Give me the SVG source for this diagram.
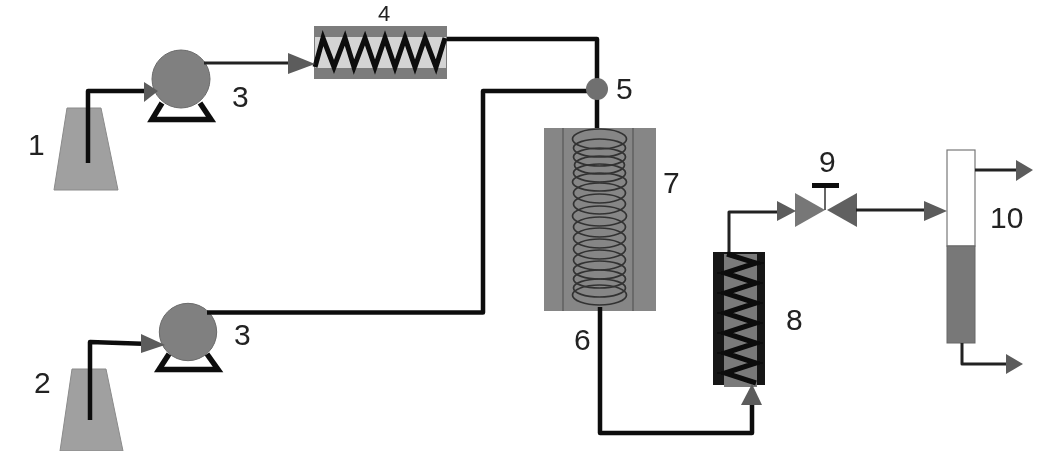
<svg xmlns="http://www.w3.org/2000/svg" width="1054" height="451" viewBox="0 0 1054 451">
<defs><filter id="soft" x="-2%" y="-2%" width="104%" height="104%"><feGaussianBlur stdDeviation="0.55"/></filter></defs>
<style>
text{font-family:"Liberation Sans",Arial,sans-serif;font-size:30px;fill:#222}
.flask{fill:#a0a0a0;stroke:#8a8a8a;stroke-width:1;stroke-linejoin:round}
.pump{fill:#808080;stroke:#6a6a6a;stroke-width:1}
.base{fill:none;stroke:#111;stroke-width:5.500;stroke-linejoin:miter}
.pipe{fill:none;stroke:#111;stroke-width:4.500;stroke-linejoin:round}
.thin{fill:none;stroke:#222;stroke-width:3;stroke-linejoin:round}
.head{fill:#5c5c5c}
.coil{fill:none;stroke:#333;stroke-width:1.700}
.zig{fill:none;stroke:#0c0c0c;stroke-width:5;stroke-linejoin:miter}
</style>
<g filter="url(#soft)">
<g id="node-1"><path class="flask" d="M67 108H101L118 190H54Z"/></g>
<g id="node-2"><path class="flask" d="M72 369H106L123 451H60Z"/></g>
<g id="node-3a"><path class="base" d="M162 103L152 119.500H211L200 103"/><circle class="pump" cx="181" cy="79" r="29"/></g>
<g id="node-3b"><path class="base" d="M169 354L159 369.500H218L207 354"/><circle class="pump" cx="188" cy="332" r="28.700"/></g>
<g id="node-4">
<rect x="314" y="26" width="133" height="53" fill="#7c7c7c"/>
<rect x="315" y="37" width="131" height="31" fill="#d4d4d4"/>
<path class="zig" d="M315 67L323 38L334 67L345 38L354 67L365 38L375 67L385 38L395 67L405 38L415 67L425 38L436 67L445 38"/>
</g>
<g id="node-7">
<rect x="544" y="128" width="112" height="183" fill="#868686"/>
<path d="M563 128V311M633 128V311" stroke="#5a5a5a" stroke-width="1.300" fill="none"/>
<g class="coil">
<ellipse cx="599.500" cy="139" rx="27" ry="10"/><ellipse cx="599.500" cy="148" rx="26" ry="9"/><ellipse cx="599.500" cy="157" rx="26" ry="9"/><ellipse cx="599.500" cy="165" rx="25" ry="9"/><ellipse cx="599.500" cy="173" rx="26" ry="9"/><ellipse cx="599.500" cy="182" rx="27" ry="9"/><ellipse cx="599.500" cy="193" rx="26" ry="10"/><ellipse cx="599.500" cy="204" rx="26" ry="10"/><ellipse cx="599.500" cy="216" rx="27" ry="10"/><ellipse cx="599.500" cy="227" rx="26" ry="10"/><ellipse cx="599.500" cy="238" rx="26" ry="10"/><ellipse cx="599.500" cy="249" rx="26" ry="10"/><ellipse cx="599.500" cy="260" rx="26" ry="10"/><ellipse cx="599.500" cy="270" rx="26" ry="9"/><ellipse cx="599.500" cy="279" rx="26" ry="9"/><ellipse cx="599.500" cy="288" rx="26" ry="9"/><ellipse cx="599.500" cy="295" rx="27" ry="10"/>
</g>
</g>
<g id="node-8">
<rect x="713" y="252" width="52" height="133" fill="#141414"/>
<rect x="724" y="254" width="33" height="133" fill="#7a7a7a"/>
<path class="zig" d="M727 254L756 263L725 273L756 283L725 293L756 303L725 313L756 323L725 333L756 343L725 353L756 363L725 373L756 383"/>
</g>
<g id="node-9">
<path d="M795 193L825 210L795 227Z" fill="#777"/>
<path d="M857 193L827 210L857 227Z" fill="#606060"/>
<path d="M825 210V186" stroke="#333" stroke-width="1.500"/>
<rect x="812" y="183" width="27" height="5" fill="#111"/>
</g>
<g id="node-10">
<rect x="947" y="150" width="28" height="96" fill="#fff" stroke="#777" stroke-width="1.200"/>
<rect x="947" y="246" width="28" height="97" fill="#787878" stroke="#666" stroke-width="1"/>
</g>
<g id="connectors">
<path class="pipe" d="M88 163V91H150"/>
<path class="head" d="M144 82L158 91L144 102Z"/>
<path class="thin" d="M204 63H295"/>
<path class="head" d="M288 53L315 64L288 74Z"/>
<path class="pipe" d="M447 39H597V128"/>
<path class="pipe" d="M207 312.500H483V91H597"/>
<path class="pipe" d="M90 420V342L150 344"/>
<path class="head" d="M141 334L165 345L141 353Z"/>
<path class="pipe" d="M600 307V433H752V400"/>
<path class="head" d="M752 384L762 405H741Z"/>
<path class="thin" d="M729 252V212H785"/>
<path class="head" d="M777 201L796 211L777 221Z"/>
<path class="thin" d="M856 210H930"/>
<path class="head" d="M924 201L947 211L924 221Z"/>
<path class="thin" d="M975 170H1022"/>
<path class="head" d="M1016 160L1033 170L1016 181Z"/>
<path class="thin" d="M962 343V364H1012"/>
<path class="head" d="M1006 354L1023 364L1006 374Z"/>
</g>
<g id="node-5"><circle cx="597" cy="89" r="11" fill="#707070"/></g>
<g id="labels">
<text x="28" y="155">1</text>
<text x="34" y="393">2</text>
<text x="232" y="107">3</text>
<text x="234" y="345">3</text>
<text x="378" y="21" style="font-size:22px">4</text>
<text x="616" y="99">5</text>
<text x="574" y="350">6</text>
<text x="663" y="193">7</text>
<text x="786" y="330">8</text>
<text x="819" y="172">9</text>
<text x="990" y="228">10</text>
</g>
</g>
</svg>
